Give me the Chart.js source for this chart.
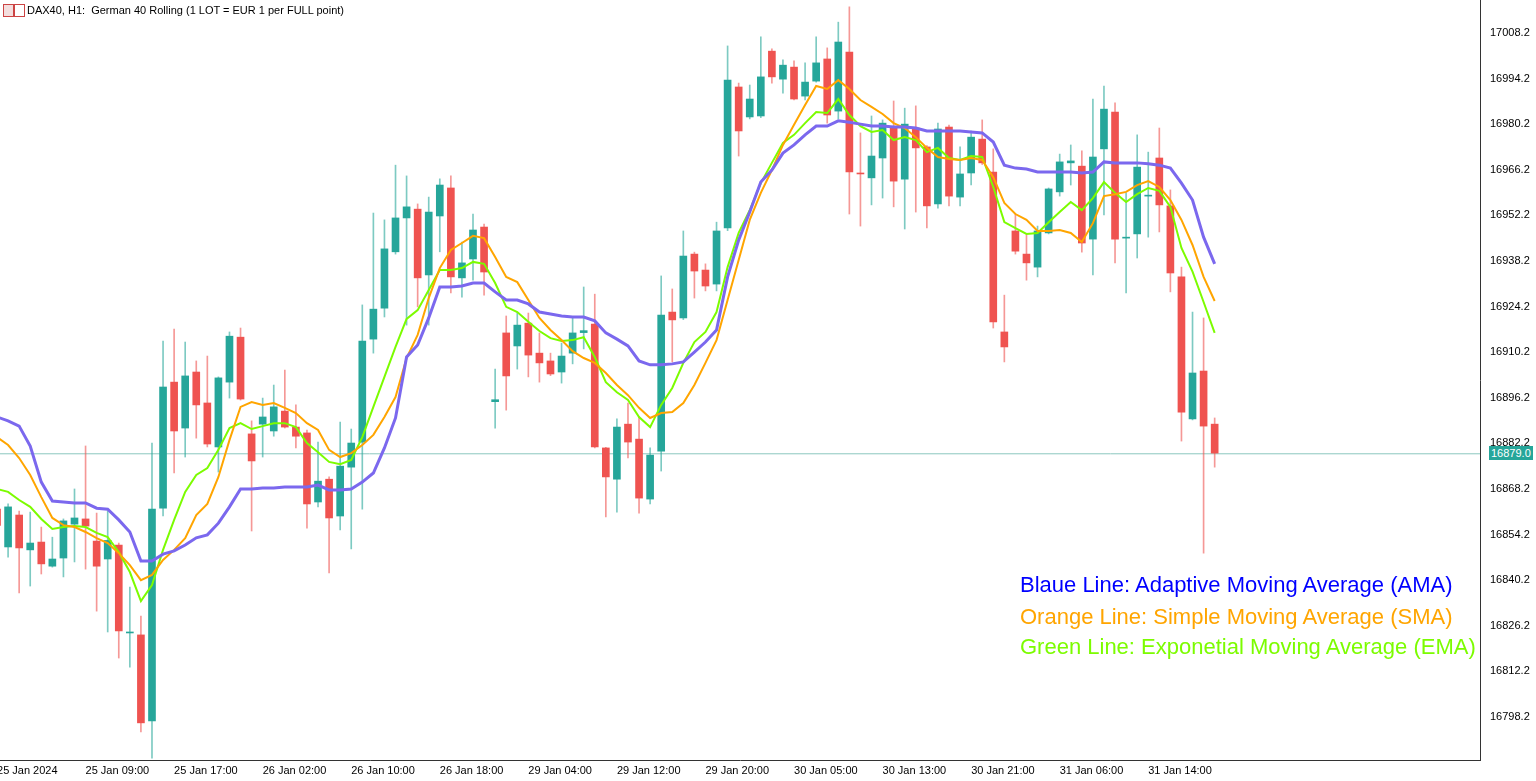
<!DOCTYPE html>
<html>
<head>
<meta charset="utf-8">
<script src="https://cdn.jsdelivr.net/npm/chart.js@4.4.1/dist/chart.umd.min.js"></script>
<style>
  body { margin: 0; background: #fff; overflow: hidden; font-family: "Liberation Sans", Arial, sans-serif; }
  #wrap { position: relative; width: 1536px; height: 781px; }
  #title { position: absolute; left: 27px; top: 4px; font-size: 11px; color: #000; }
  .ico { position: absolute; top: 4px; width: 9px; height: 11px; border: 1px solid #c44; }
  .note { position: absolute; left: 1020px; font-size: 22px; line-height: 25px; }
  #last { position: absolute; left: 1489px; top: 446px; background: #26a69a; color: #fff; font-size: 11px; padding: 0 2px; line-height: 14px; }
</style>
</head>
<body>
<div id="wrap">
  <canvas id="grafica" width="1536" height="781"></canvas>
  <div class="ico" style="left:3px;background:#f3dede"></div>
  <div class="ico" style="left:14px;background:#fff"></div>
  <div id="title">DAX40, H1:&nbsp; German 40 Rolling (1 LOT = EUR 1 per FULL point)</div>
  <div class="note" style="top:572px;color:#0000ff">Blaue Line: Adaptive Moving Average (AMA)</div>
  <div class="note" style="top:604px;color:#ffa500">Orange Line: Simple Moving Average (SMA)</div>
  <div class="note" style="top:634px;color:#7cfc00">Green Line: Exponetial Moving Average (EMA)</div>
  <div id="last">16879.0</div>
</div>
<script>
// velas H1 (open, high, low, close)
const abre = [16862.0,16850.4,16860.2,16849.5,16851.9,16844.5,16847.0,16857.4,16859.0,16852.2,16846.7,16851.0,16824.0,16823.4,16797.0,16862.3,16901.0,16886.9,16904.1,16894.6,16881.1,16901.0,16914.8,16885.1,16888.1,16886.0,16892.1,16887.2,16885.4,16864.2,16871.2,16859.9,16874.9,16882.6,16914.2,16923.7,16941.0,16951.4,16954.1,16933.9,16952.0,16960.6,16933.0,16938.8,16948.6,16895.0,16916.1,16912.1,16919.1,16909.9,16907.5,16904.1,16909.9,16916.2,16918.8,16880.8,16871.2,16888.1,16883.5,16865.1,16879.8,16922.5,16920.7,16940.3,16935.4,16931.1,16948.3,16991.6,16982.4,16982.7,17002.6,16994.0,16997.7,16988.8,16993.4,17000.2,16984.2,17002.3,16965.2,16963.7,16969.8,16979.0,16963.3,16979.0,16973.2,16955.7,16979.3,16957.8,16965.2,16975.6,16965.5,16916.4,16947.4,16940.3,16936.3,16946.8,16959.4,16968.3,16967.3,16944.9,16972.6,16983.9,16945.2,16946.5,16958.1,16969.8,16955.1,16933.3,16889.7,16904.4,16888.1];
const alto = [16864.0,16863.6,16861.4,16861.1,16856.5,16853.4,16859.0,16868.2,16881.4,16860.8,16861.4,16851.6,16838.1,16829.2,16882.3,16913.6,16917.3,16913.3,16907.5,16909.0,16902.6,16916.4,16917.6,16889.1,16896.1,16900.1,16904.7,16894.0,16886.3,16882.6,16871.9,16888.7,16886.6,16924.7,16952.9,16950.8,16967.6,16964.3,16955.7,16957.8,16963.4,16964.3,16944.0,16952.6,16949.5,16905.0,16921.3,16922.2,16922.2,16916.1,16909.9,16913.0,16920.7,16930.2,16928.0,16881.0,16889.7,16894.6,16890.3,16880.8,16933.6,16929.6,16947.4,16940.9,16937.3,16950.1,17004.2,16992.8,16992.2,17007.0,17003.3,16999.9,16999.6,16999.0,17007.0,17003.6,17011.5,17016.2,16977.5,16982.7,16981.5,16987.3,16985.1,16985.8,16973.6,16980.5,16979.9,16973.2,16978.1,16981.5,16972.6,16927.7,16952.6,16946.2,16948.9,16960.6,16971.0,16973.8,16972.0,16987.9,16991.9,16986.7,16959.1,16976.9,16971.6,16979.0,16960.0,16936.3,16922.5,16920.7,16890.0];
const bajo = [16850.0,16847.3,16836.3,16838.4,16842.1,16844.2,16841.2,16845.8,16843.6,16830.7,16824.3,16816.3,16813.5,16793.6,16785.6,16859.9,16873.1,16878.0,16883.8,16881.1,16873.4,16896.1,16895.5,16855.3,16878.0,16884.4,16886.9,16880.8,16856.2,16862.7,16842.4,16855.6,16849.8,16862.0,16909.9,16921.0,16940.3,16918.5,16924.1,16918.5,16941.0,16928.4,16927.1,16932.3,16927.7,16886.9,16892.4,16905.0,16902.6,16901.0,16903.0,16900.7,16906.6,16911.2,16880.8,16859.6,16861.1,16877.7,16860.8,16863.6,16873.7,16907.2,16920.2,16926.8,16929.0,16929.0,16947.5,16970.4,16981.8,16982.2,16992.8,16989.7,16987.6,16987.6,16993.1,16980.5,16981.8,16952.6,16948.9,16955.4,16957.5,16954.8,16948.0,16953.2,16948.3,16954.4,16955.1,16955.1,16961.5,16967.8,16917.6,16907.2,16940.3,16932.3,16933.3,16946.5,16958.1,16961.5,16940.9,16933.9,16952.3,16937.6,16928.4,16939.1,16945.5,16947.1,16928.7,16882.9,16889.4,16848.5,16874.9];
const cierre = [16857.0,16862.7,16850.1,16851.6,16845.2,16846.7,16858.4,16859.3,16856.8,16844.5,16852.4,16824.6,16824.3,16796.4,16862.0,16899.5,16886.0,16902.9,16894.0,16882.0,16902.3,16915.1,16895.8,16876.8,16890.3,16893.4,16887.2,16884.4,16863.6,16870.6,16859.3,16875.2,16882.3,16913.6,16923.4,16941.9,16951.4,16954.8,16933.0,16953.2,16961.5,16933.3,16937.6,16947.7,16934.8,16895.6,16902.9,16918.5,16909.3,16906.9,16903.5,16909.0,16916.1,16916.8,16881.1,16871.9,16887.2,16882.6,16865.4,16878.6,16921.6,16920.1,16939.7,16935.1,16930.5,16947.4,16993.7,16978.1,16987.9,16994.7,16994.7,16998.3,16987.9,16993.1,16999.0,16983.0,17005.4,16965.5,16964.9,16970.4,16980.5,16962.7,16980.2,16972.9,16955.1,16978.7,16958.1,16964.9,16976.2,16968.3,16919.5,16911.8,16941.2,16937.6,16947.4,16960.3,16968.6,16968.9,16943.7,16970.1,16984.8,16944.9,16945.5,16967.0,16958.4,16955.4,16934.5,16891.8,16903.8,16887.5,16879.2];

const ama = [16890.3,16889.1,16887.5,16881.4,16870.3,16864.5,16864.2,16863.9,16863.9,16862.3,16862.0,16858.7,16855.0,16846.1,16846.1,16848.2,16849.2,16851.0,16853.2,16854.1,16857.7,16862.7,16868.2,16868.2,16868.5,16868.5,16868.8,16868.8,16868.8,16869.4,16867.9,16867.9,16868.2,16870.3,16873.1,16880.8,16890.0,16908.7,16912.4,16920.7,16930.2,16930.2,16930.5,16931.4,16931.4,16928.7,16926.2,16926.2,16925.0,16922.5,16921.9,16921.3,16921.0,16921.0,16919.8,16916.1,16914.2,16912.1,16907.5,16906.3,16906.3,16906.6,16907.2,16910.2,16913.3,16917.0,16933.3,16944.6,16953.2,16962.4,16966.1,16971.3,16973.8,16976.9,16979.6,16979.6,16981.2,16980.8,16980.2,16979.6,16979.6,16979.3,16979.3,16979.0,16978.1,16978.1,16978.1,16978.1,16977.8,16977.5,16974.7,16967.6,16966.7,16966.4,16965.5,16965.5,16965.5,16965.5,16965.2,16965.5,16968.6,16968.3,16968.3,16968.3,16968.0,16967.6,16966.7,16962.1,16956.9,16945.5,16937.3];
const sma = [16884.1,16881.7,16877.7,16872.5,16865.7,16859.3,16857.1,16856.5,16855.0,16853.1,16851.6,16848.5,16844.8,16840.2,16841.8,16846.4,16849.5,16853.1,16860.2,16863.6,16871.9,16883.2,16893.4,16894.9,16894.0,16894.6,16893.1,16891.5,16888.4,16886.3,16880.2,16878.0,16879.2,16881.7,16884.8,16890.3,16896.4,16908.4,16915.5,16926.8,16936.0,16941.6,16943.7,16945.9,16945.2,16939.4,16933.3,16931.7,16926.2,16920.7,16917.0,16913.9,16910.5,16908.4,16906.9,16903.8,16900.1,16897.0,16893.1,16890.0,16891.5,16891.8,16894.6,16900.1,16906.9,16913.9,16926.2,16938.5,16950.8,16959.1,16966.1,16973.8,16980.0,16986.1,16991.9,16991.0,16993.7,16991.0,16987.6,16985.5,16983.3,16980.5,16979.0,16976.2,16972.9,16970.1,16969.5,16969.2,16969.8,16969.2,16963.9,16956.0,16952.6,16950.8,16947.4,16947.4,16947.7,16946.8,16944.0,16949.8,16958.1,16958.7,16959.4,16961.5,16962.7,16960.9,16956.9,16950.8,16943.1,16933.3,16925.9];
const ema = [16868.2,16867.3,16864.8,16862.7,16859.0,16855.9,16856.5,16856.8,16856.5,16854.7,16853.4,16848.8,16842.7,16833.8,16838.7,16849.5,16858.7,16867.3,16872.5,16874.6,16880.2,16886.9,16888.4,16886.6,16887.5,16888.4,16888.4,16887.2,16882.3,16879.5,16876.5,16875.8,16877.1,16884.1,16893.4,16902.6,16911.8,16920.4,16923.1,16929.3,16935.4,16935.4,16936.0,16937.9,16937.3,16931.4,16924.1,16922.5,16919.5,16916.7,16914.5,16913.6,16913.9,16914.8,16908.7,16901.0,16897.9,16895.5,16890.3,16887.2,16894.0,16899.2,16906.9,16913.3,16916.4,16922.5,16936.3,16946.8,16953.8,16962.1,16968.3,16974.4,16976.9,16980.5,16983.9,16983.6,16987.9,16983.0,16979.6,16977.8,16978.4,16975.3,16976.2,16975.3,16971.6,16972.9,16969.8,16969.2,16970.4,16970.1,16960.9,16950.1,16948.3,16946.5,16946.8,16950.1,16953.2,16956.3,16953.8,16957.5,16962.4,16959.1,16956.3,16958.7,16960.6,16959.7,16954.8,16942.2,16934.9,16925.6,16916.1];

const etiquetasX = ['25 Jan 2024','25 Jan 09:00','25 Jan 17:00','26 Jan 02:00','26 Jan 10:00','26 Jan 18:00','29 Jan 04:00','29 Jan 12:00','29 Jan 20:00','30 Jan 05:00','30 Jan 13:00','30 Jan 21:00','31 Jan 06:00','31 Jan 14:00'];
const ticksY = [16798.2,16812.2,16826.2,16840.2,16854.2,16868.2,16882.2,16896.2,16910.2,16924.2,16938.2,16952.2,16966.2,16980.2,16994.2,17008.2];
const ultimo = 16879.0;

const VERDE = '#26a69a', ROJO = '#ef5350';
const colores = abre.map((o, i) => cierre[i] >= o ? VERDE : ROJO);
const coloresMecha = abre.map((o, i) => cierre[i] >= o ? 'rgba(38,166,154,0.6)' : 'rgba(239,83,80,0.6)');

const mechas = abre.map((o, i) => ({ x: i, y: [bajo[i], alto[i]] }));
const cuerpos = abre.map((o, i) => ({ x: i, y: [o, cierre[i]] }));
const linea = arr => arr.map((v, i) => ({ x: i, y: v }));

new Chart(document.getElementById('grafica').getContext('2d'), {
  data: {
    datasets: [
      { type: 'line', data: linea(ama), borderColor: '#7b68ee', borderWidth: 3, pointRadius: 0, tension: 0, order: 0 },
      { type: 'line', data: linea(sma), borderColor: '#ffa500', borderWidth: 2, pointRadius: 0, tension: 0, order: 0 },
      { type: 'line', data: linea(ema), borderColor: '#7cfc00', borderWidth: 2, pointRadius: 0, tension: 0, order: 0 },
      { type: 'line', data: [{ x: -5, y: ultimo }, { x: 140, y: ultimo }], borderColor: '#8cc7bf', borderWidth: 1, pointRadius: 0, order: 3 },
      { type: 'bar', data: mechas, backgroundColor: coloresMecha, barThickness: 1, grouped: false, order: 2 },
      { type: 'bar', data: cuerpos, backgroundColor: colores, barThickness: 7, grouped: false, order: 1 }
    ]
  },
  options: {
    responsive: false,
    animation: false,
    layout: { padding: 0 },
    plugins: { legend: { display: false }, tooltip: { enabled: false } },
    scales: {
      x: {
        type: 'linear', min: 0.27, max: 133.97, offset: false,
        grid: { display: false, drawTicks: true, tickLength: 4, color: '#333' },
        border: { display: true, color: '#333' },
        afterBuildTicks: ax => { ax.ticks = etiquetasX.map((t, i) => ({ value: i * 8 })); },
        afterFit: ax => { ax.height = 21; ax.paddingLeft = 0; ax.paddingRight = 0; },
        ticks: {
          autoSkip: false, maxRotation: 0, align: 'start', padding: 0,
          color: '#000', font: { size: 11, family: 'Liberation Sans' },
          callback: (v, i) => etiquetasX[i]
        }
      },
      y: {
        position: 'right', min: 16785.0, max: 17018.3,
        grid: { display: false, drawTicks: true, tickLength: 4, color: '#333' },
        border: { display: true, color: '#333' },
        afterBuildTicks: ax => { ax.ticks = ticksY.map(v => ({ value: v })); },
        afterFit: ax => { ax.width = 56; ax.paddingTop = 0; ax.paddingBottom = 0; },
        ticks: {
          padding: 6, color: '#000', font: { size: 11, family: 'Liberation Sans' },
          callback: v => v.toFixed(1)
        }
      }
    }
  }
});
</script>
</body>
</html>
